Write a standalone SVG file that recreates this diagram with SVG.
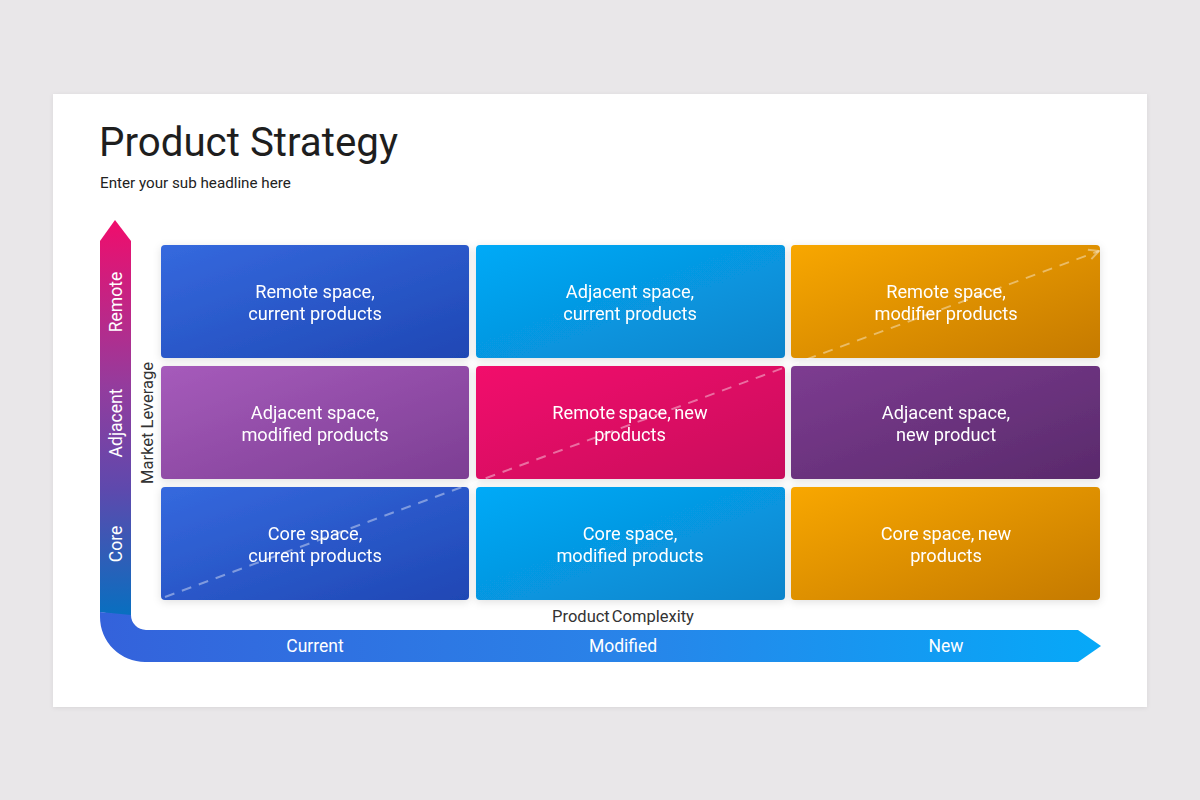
<svg xmlns="http://www.w3.org/2000/svg" width="1200" height="800" viewBox="0 0 1200 800">
  <defs>
    <style>
      .title{font-family:Roboto,"Liberation Sans",sans-serif;font-size:40.3px;fill:#1e1e1e}
      .sub{font-family:Roboto,"Liberation Sans",sans-serif;font-size:15.2px;fill:#222}
      .cell{font-family:Roboto,"Liberation Sans",sans-serif;font-size:18.2px;fill:#ffffff;text-anchor:middle}
      .axis{font-family:Roboto,"Liberation Sans",sans-serif;font-size:17.5px;fill:#ffffff;text-anchor:middle}
      .axtitle{font-family:Roboto,"Liberation Sans",sans-serif;font-size:16.5px;fill:#333;text-anchor:middle}
    </style>
    <filter id="shadow" x="-10%" y="-10%" width="120%" height="130%">
      <feDropShadow dx="0" dy="2" stdDeviation="4" flood-color="#000" flood-opacity="0.12"/>
    </filter>
    <filter id="cardShadow" x="-5%" y="-5%" width="110%" height="110%">
      <feDropShadow dx="0" dy="1" stdDeviation="2" flood-color="#000" flood-opacity="0.08"/>
    </filter>
    <linearGradient id="gBlue" x1="0" y1="0" x2="1" y2="1"><stop offset="0" stop-color="#3569de"/><stop offset="1" stop-color="#1f47b4"/></linearGradient>
    <linearGradient id="gCyan" x1="0" y1="0" x2="1" y2="1"><stop offset="0" stop-color="#03aaf7"/><stop offset="1" stop-color="#0a84cb"/></linearGradient>
    <linearGradient id="gOrange" x1="0" y1="0" x2="1" y2="1"><stop offset="0" stop-color="#f8a700"/><stop offset="1" stop-color="#c57a03"/></linearGradient>
    <linearGradient id="gLilac" x1="0" y1="0" x2="1" y2="1"><stop offset="0" stop-color="#a65bbb"/><stop offset="1" stop-color="#7c3e93"/></linearGradient>
    <linearGradient id="gPink" x1="0" y1="0" x2="1" y2="1"><stop offset="0" stop-color="#f20e6c"/><stop offset="1" stop-color="#c80a5c"/></linearGradient>
    <linearGradient id="gPurple" x1="0" y1="0" x2="1" y2="1"><stop offset="0" stop-color="#7d3c91"/><stop offset="1" stop-color="#592a6b"/></linearGradient>
    <linearGradient id="gVert" gradientUnits="userSpaceOnUse" x1="0" y1="220" x2="0" y2="615">
      <stop offset="0" stop-color="#f00d6c"/>
      <stop offset="0.42" stop-color="#943c9d"/>
      <stop offset="0.68" stop-color="#5e49ad"/>
      <stop offset="1" stop-color="#086fc0"/>
    </linearGradient>
    <linearGradient id="gHoriz" gradientUnits="userSpaceOnUse" x1="100" y1="0" x2="1101" y2="0">
      <stop offset="0" stop-color="#3462db"/>
      <stop offset="0.5" stop-color="#2a82e8"/>
      <stop offset="1" stop-color="#06a9f8"/>
    </linearGradient>
    <marker id="openArrow" viewBox="0 0 12 12" refX="11" refY="6" markerWidth="12" markerHeight="12" markerUnits="userSpaceOnUse" orient="auto">
      <path d="M1 1 L11 6 L1 11" fill="none" stroke="#ffffff" stroke-opacity="0.4" stroke-width="2"/>
    </marker>
  </defs>

  <rect x="0" y="0" width="1200" height="800" fill="#e9e7e9"/>
  <rect x="53" y="94" width="1094" height="613" fill="#ffffff" filter="url(#cardShadow)"/>

  <g id="title">
    <text class="title" x="99" y="156">Product Strategy</text>
    <text class="sub" x="100" y="188">Enter your sub headline here</text>
  </g>

  <g id="axis-y">
    <path d="M115 220 L131 241 L131 617 L100 612 L100 241 Z" fill="url(#gVert)"/>
    <text class="axis" transform="translate(122 302) rotate(-90)">Remote</text>
    <text class="axis" transform="translate(122 423) rotate(-90)">Adjacent</text>
    <text class="axis" transform="translate(122 544) rotate(-90)">Core</text>
    <text class="axtitle" transform="translate(153 423) rotate(-90)">Market Leverage</text>
  </g>

  <g id="axis-x">
    <path d="M100 612 L100 617 A45 45 0 0 0 145 662 L1078 662 L1101 646 L1078 630 L146 630 A15 15 0 0 1 131 615 Z" fill="url(#gHoriz)"/>
    <text class="axis" x="315" y="652">Current</text>
    <text class="axis" x="623" y="652">Modified</text>
    <text class="axis" x="946" y="652">New</text>
    <text class="axtitle" x="623" y="622" word-spacing="-2">Product Complexity</text>
  </g>

  <g id="cell-r1c1" filter="url(#shadow)">
    <rect x="161" y="245" width="308" height="113" rx="4" fill="url(#gBlue)"/>
    <text class="cell" x="315" y="298">Remote space,</text>
    <text class="cell" x="315" y="320">current products</text>
  </g>
  <g id="cell-r1c2" filter="url(#shadow)">
    <rect x="476" y="245" width="309" height="113" rx="4" fill="url(#gCyan)"/>
    <text class="cell" x="630" y="298">Adjacent space,</text>
    <text class="cell" x="630" y="320">current products</text>
  </g>
  <g id="cell-r1c3" filter="url(#shadow)">
    <rect x="791" y="245" width="309" height="113" rx="4" fill="url(#gOrange)"/>
    <text class="cell" x="946" y="298">Remote space,</text>
    <text class="cell" x="946" y="320">modifier products</text>
  </g>

  <g id="cell-r2c1" filter="url(#shadow)">
    <rect x="161" y="366" width="308" height="113" rx="4" fill="url(#gLilac)"/>
    <text class="cell" x="315" y="419">Adjacent space,</text>
    <text class="cell" x="315" y="441">modified products</text>
  </g>
  <g id="cell-r2c2" filter="url(#shadow)">
    <rect x="476" y="366" width="309" height="113" rx="4" fill="url(#gPink)"/>
    <text class="cell" x="630" y="419" word-spacing="-1">Remote space, new</text>
    <text class="cell" x="630" y="441">products</text>
  </g>
  <g id="cell-r2c3" filter="url(#shadow)">
    <rect x="791" y="366" width="309" height="113" rx="4" fill="url(#gPurple)"/>
    <text class="cell" x="946" y="419">Adjacent space,</text>
    <text class="cell" x="946" y="441">new product</text>
  </g>

  <g id="cell-r3c1" filter="url(#shadow)">
    <rect x="161" y="487" width="308" height="113" rx="4" fill="url(#gBlue)"/>
    <text class="cell" x="315" y="540">Core space,</text>
    <text class="cell" x="315" y="562">current products</text>
  </g>
  <g id="cell-r3c2" filter="url(#shadow)">
    <rect x="476" y="487" width="309" height="113" rx="4" fill="url(#gCyan)"/>
    <text class="cell" x="630" y="540">Core space,</text>
    <text class="cell" x="630" y="562">modified products</text>
  </g>
  <g id="cell-r3c3" filter="url(#shadow)">
    <rect x="791" y="487" width="309" height="113" rx="4" fill="url(#gOrange)"/>
    <text class="cell" x="946" y="540" word-spacing="-1">Core space, new</text>
    <text class="cell" x="946" y="562">products</text>
  </g>

  <g id="connectors">
    <line x1="165" y1="597" x2="1099" y2="251" stroke="#ffffff" stroke-opacity="0.4" stroke-width="2" stroke-dasharray="10 8" marker-end="url(#openArrow)"/>
  </g>
</svg>
